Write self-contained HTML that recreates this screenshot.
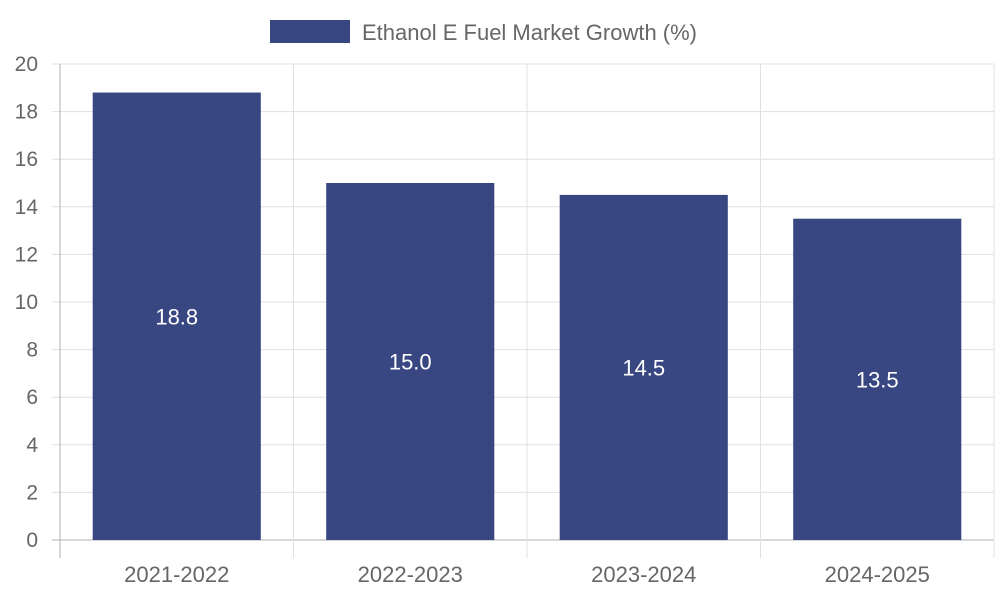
<!DOCTYPE html>
<html><head><meta charset="utf-8"><style>
html,body{margin:0;padding:0;background:#fff;}
svg{display:block;font-family:"Liberation Sans",sans-serif;}
</style></head><body>
<svg id="chart" width="1000" height="600"></svg>
<script>
const categories = ["2021-2022","2022-2023","2023-2024","2024-2025"];
const growthValues = [18.8, 15.0, 14.5, 13.5];
const yTickLabels = [0,2,4,6,8,10,12,14,16,18,20];
const seriesLabel = "Ethanol E Fuel Market Growth (%)";

const NS = "http://www.w3.org/2000/svg";
const svg = document.getElementById("chart");
const L = 60, R = 994, T = 64, B = 540, yMax = 20;
const bandW = (R - L) / categories.length;
const yScale = v => B - (v / yMax) * (B - T);
const xBand = i => L + i * bandW;
function mk(tag, attrs, parent) {
  const e = document.createElementNS(NS, tag);
  for (const k in attrs) e.setAttribute(k, attrs[k]);
  (parent || svg).appendChild(e);
  return e;
}

// horizontal grid + y ticks
yTickLabels.forEach(v => {
  const y = yScale(v);
  const g = mk("line", {x1: 52, x2: R, y1: y, y2: y, stroke: v === 0 ? "#b0b0b0" : "#e0e0e0", "stroke-width": 1});
  
  
  const t = mk("text", {x: 38, y: y + 7, "text-anchor": "end", "font-size": 21, fill: "#666"});
  t.textContent = v;
  
  
});

// vertical grid
for (let i = 0; i <= categories.length; i++) {
  const x = xBand(i);
  const g = mk("line", {x1: x, x2: x, y1: T, y2: 558, stroke: i === 0 ? "#b0b0b0" : "#e0e0e0", "stroke-width": 1});
  
  
}

// bars
categories.forEach((c, i) => {
  const bw = bandW * 0.72;
  const x = xBand(i) + (bandW - bw) / 2;
  const y = yScale(growthValues[i]);
  const r = mk("rect", {x: x, y: y, width: bw, height: B - y, fill: "#384782"});
  
  
  const vt = mk("text", {x: x + bw / 2, y: (y + B) / 2 + 8, "text-anchor": "middle", "font-size": 22, fill: "#fff"});
  vt.textContent = growthValues[i].toFixed(1);
  
  
  const xt = mk("text", {x: xBand(i) + bandW / 2, y: 582, "text-anchor": "middle", "font-size": 22, fill: "#666"});
  xt.textContent = c;
  
  
});

// legend
const lg = mk("g", {});


mk("rect", {x: 270, y: 20, width: 80, height: 23, fill: "#384782"}, lg);
const lt = mk("text", {x: 362, y: 40, "font-size": 22, fill: "#666"}, lg);
lt.textContent = seriesLabel;
</script>
</body></html>
